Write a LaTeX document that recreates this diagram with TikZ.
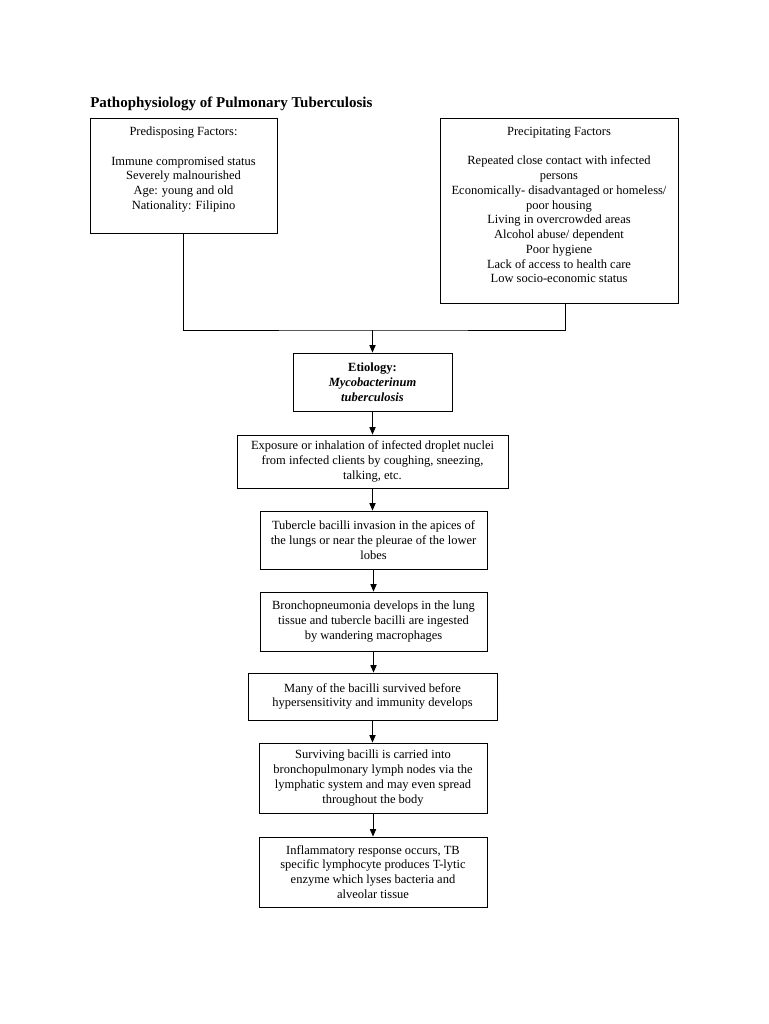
\documentclass[tikz,border=0pt]{standalone}
\usepackage{fontspec}
\setmainfont{Liberation Serif}
\usetikzlibrary{arrows.meta}
\tikzstyle{bx}=[shape=rectangle, draw, line width=0.7pt, align=center, inner sep=0pt, font=\fontsize{10}{11.8}\selectfont]
\tikzstyle{flow}=[line width=0.7pt, -{Triangle[length=6pt, width=5pt]}]

\begin{document}
\begin{tikzpicture}[x=0.8pt, y=-0.8pt]
\useasboundingbox (0,0) rectangle (768,1024);
\node at (90,108)[anchor=base west, inner sep=0, font=\fontsize{12}{14}\selectfont\bfseries](title){Pathophysiology of Pulmonary Tuberculosis};
% factors
\node at (183.5,175.5)[bx, minimum width=149.6pt, minimum height=92pt](pred){Predisposing Factors:\\[11.8pt]Immune compromised status\\Severely malnourished\\Age: young and old\\Nationality: Filipino\\ \mbox{}};
\node at (559,210.5)[bx, minimum width=190.4pt, minimum height=148pt](prec){Precipitating Factors\\[11.8pt]Repeated close contact with infected\\persons\\Economically- disadvantaged or homeless/\\poor housing\\Living in overcrowded areas\\Alcohol abuse/ dependent\\Poor hygiene\\Lack of access to health care\\ Low socio-economic status\\[-3pt] \mbox{}};
\coordinate (join) at (372.5,330);
% flow
\node at (372.5,382)[bx, minimum width=127.2pt, minimum height=46.4pt](etio){\textbf{Etiology:}\\\textbf{\textit{Mycobacterinum}}\\\textbf{\textit{tuberculosis}}};
\node at (372.5,461.5)[bx, minimum width=216.8pt, minimum height=42.4pt](expo){Exposure or inhalation of infected droplet nuclei\\from infected clients by coughing, sneezing,\\talking, etc.};
\node at (373.5,540)[bx, minimum width=181.6pt, minimum height=46.4pt](tube){Tubercle bacilli invasion in the apices of\\the lungs or near the pleurae of the lower\\lobes};
\node at (373.5,621.5)[bx, minimum width=181.6pt, minimum height=47.2pt](bron){Bronchopneumonia develops in the lung\\tissue and tubercle bacilli are ingested\\by wandering macrophages};
\node at (372.5,696.5)[bx, minimum width=199.2pt, minimum height=37.6pt](many){Many of the bacilli survived before\\hypersensitivity and immunity develops};
\node at (373,778)[bx, minimum width=182.4pt, minimum height=56pt](surv){Surviving bacilli is carried into\\bronchopulmonary lymph nodes via the\\lymphatic system and may even spread\\throughout the body};
\node at (373,872)[bx, minimum width=182.4pt, minimum height=56pt](infl){Inflammatory response occurs, TB\\specific lymphocyte produces T-lytic\\enzyme which lyses bacteria and\\alveolar tissue};
\draw[line width=0.7pt] (pred.south) |- (join) -| ([xshift=4.8pt]prec.south);
\draw[flow] (join)--(etio.north);
\foreach \a/\b in {etio/expo, expo/tube, tube/bron, bron/many, many/surv, surv/infl} {\draw[flow] (\a.south)--(\a.south |- \b.north);}
\end{tikzpicture}
\end{document}
